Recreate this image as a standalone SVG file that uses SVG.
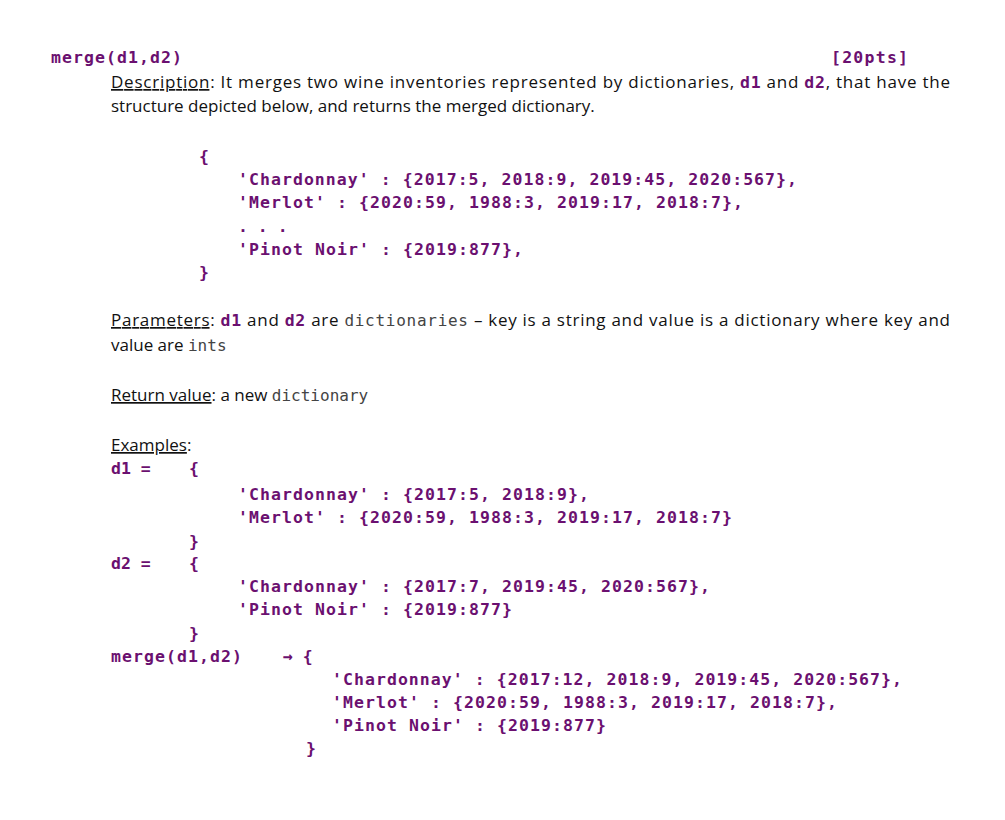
<svg xmlns="http://www.w3.org/2000/svg" width="1005" height="820" viewBox="0 0 1005 820">
<style>
.c{font-family:"DejaVu Sans Mono","Liberation Mono",monospace;font-weight:bold;font-size:16.5px;fill:#6b1070}
.t{font-family:"Open Sans","Noto Sans",sans-serif;font-size:17px;fill:#111}
.m{font-family:"DejaVu Sans Mono","Liberation Mono",monospace;font-size:16px;fill:#444}
.u{text-decoration:underline}
</style>
<rect width="1005" height="820" fill="#fff"/>
<text class="c" x="51" y="63" textLength="131">merge(d1,d2)</text>
<text class="c" x="831" y="63" textLength="77">[20pts]</text>
<text class="t" x="111" y="88" textLength="839"><tspan class="u">Description</tspan>: It merges two wine inventories represented by dictionaries, <tspan class="c">d1</tspan> and <tspan class="c">d2</tspan>, that have the</text>
<text class="t" x="111" y="112">structure depicted below, and returns the merged dictionary.</text>
<text class="c" x="199" y="162">{</text>
<text class="c" x="238" y="185" textLength="559">'Chardonnay' : {2017:5, 2018:9, 2019:45, 2020:567},</text>
<text class="c" x="238" y="208" textLength="505">'Merlot' : {2020:59, 1988:3, 2019:17, 2018:7},</text>
<text class="c" x="238" y="232">. . .</text>
<text class="c" x="238" y="255" textLength="285">'Pinot Noir' : {2019:877},</text>
<text class="c" x="199" y="278">}</text>
<text class="t" x="111" y="326" textLength="839"><tspan class="u">Parameters</tspan>: <tspan class="c">d1</tspan> and <tspan class="c">d2</tspan> are <tspan class="m">dictionaries</tspan> – key is a string and value is a dictionary where key and</text>
<text class="t" x="111" y="351">value are <tspan class="m">ints</tspan></text>
<text class="t" x="111" y="401"><tspan class="u">Return value</tspan>: a new <tspan class="m">dictionary</tspan></text>
<text class="t" x="111" y="451"><tspan class="u">Examples</tspan>:</text>
<text class="c" x="111" y="474">d1 =</text>
<text class="c" x="189" y="474">{</text>
<text class="c" x="238" y="500" textLength="351">'Chardonnay' : {2017:5, 2018:9},</text>
<text class="c" x="238" y="523" textLength="494">'Merlot' : {2020:59, 1988:3, 2019:17, 2018:7}</text>
<text class="c" x="189" y="547">}</text>
<text class="c" x="111" y="569">d2 =</text>
<text class="c" x="189" y="569">{</text>
<text class="c" x="238" y="592" textLength="472">'Chardonnay' : {2017:7, 2019:45, 2020:567},</text>
<text class="c" x="238" y="615" textLength="274">'Pinot Noir' : {2019:877}</text>
<text class="c" x="189" y="639">}</text>
<text class="c" x="111" y="662" textLength="131">merge(d1,d2)</text>
<text class="c" x="283" y="662">→ {</text>
<text class="c" x="332" y="685" textLength="570">'Chardonnay' : {2017:12, 2018:9, 2019:45, 2020:567},</text>
<text class="c" x="332" y="708" textLength="505">'Merlot' : {2020:59, 1988:3, 2019:17, 2018:7},</text>
<text class="c" x="332" y="731" textLength="274">'Pinot Noir' : {2019:877}</text>
<text class="c" x="306" y="754">}</text>
</svg>
